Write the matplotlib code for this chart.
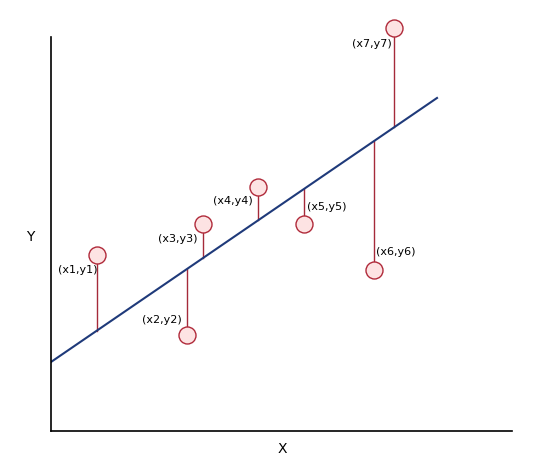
import matplotlib.pyplot as plt
import numpy as np

# data in a pixel-like coordinate space
px = np.array([97, 187, 203, 258, 304, 374, 394])
py = np.array([214, 134, 245, 282, 245, 199, 441])
labels = ["(x1,y1)", "(x2,y2)", "(x3,y3)", "(x4,y4)", "(x5,y5)", "(x6,y6)", "(x7,y7)"]
label_pos = [(78, 199), (162, 149), (178, 230), (233, 268), (327, 262), (396, 217), (372, 425)]
line_x = np.array([51, 437])
intercept, slope = 107, 0.684

fig = plt.figure(figsize=(5.46, 4.69), dpi=100)
ax = fig.add_axes([51 / 546, 38 / 469, 461 / 546, 394 / 469])
ax.set_xlim(51, 512)
ax.set_ylim(38, 432)

fit = lambda x: intercept + slope * (x - 51)
ax.plot(line_x, fit(line_x), color="#1f3a7a", lw=1.5, zorder=2)
for x, y in zip(px, py):
    ax.plot([x, x], [y, fit(x)], color="#a52a3a", lw=1, zorder=1)
ax.scatter(px, py, s=150, facecolor="#fde3e3", edgecolor="#b02a3a", lw=1, zorder=3, clip_on=False)
for t, (x, y) in zip(labels, label_pos):
    ax.text(x, y, t, ha="center", va="center", fontsize=8)

ax.set_xticks([])
ax.set_yticks([])
for s in ["top", "right"]:
    ax.spines[s].set_visible(False)
ax.spines["left"].set_linewidth(1.2)
ax.spines["bottom"].set_linewidth(1.2)
fig.text(30 / 546, 1 - 237 / 469, "Y", ha="center", va="center", fontsize=10)
fig.text(282 / 546, 1 - 449 / 469, "X", ha="center", va="center", fontsize=10)
fig.savefig("out.png", dpi=100)
